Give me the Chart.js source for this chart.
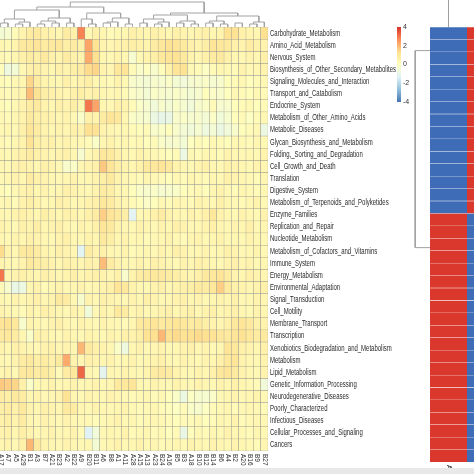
<!DOCTYPE html>
<html>
<head>
<meta charset="utf-8">
<script src="https://cdn.jsdelivr.net/npm/chart.js@4.4.1/dist/chart.umd.min.js"></script>
<style>
html, body { margin: 0; padding: 0; background: #fff; overflow: hidden; width: 474px; height: 474px; }
.box { position: absolute; }
#strip { position: absolute; left: 0; top: 468px; width: 474px; height: 6px; background: #e8e8e8; z-index: 5; }
</style>
</head>
<body>
<div class="box" style="left:-3px;top:0;width:271px;height:27px"><canvas id="tree"></canvas></div>
<div class="box" style="left:-3px;top:27px;width:401px;height:447px"><canvas id="heat"></canvas></div>
<div class="box" style="left:393px;top:0;width:111px;height:474px"><canvas id="side"></canvas></div>
<div class="box" style="left:397px;top:20px;width:26px;height:90px"><canvas id="key"></canvas></div>
<div id="strip"></div>
<script>
const rowLabels = [
    'Carbohydrate_Metabolism', 'Amino_Acid_Metabolism', 'Nervous_System',
    'Biosynthesis_of_Other_Secondary_Metabolites', 'Signaling_Molecules_and_Interaction',
    'Transport_and_Catabolism', 'Endocrine_System', 'Metabolism_of_Other_Amino_Acids',
    'Metabolic_Diseases', 'Glycan_Biosynthesis_and_Metabolism', 'Folding,_Sorting_and_Degradation',
    'Cell_Growth_and_Death', 'Translation', 'Digestive_System',
    'Metabolism_of_Terpenoids_and_Polyketides', 'Enzyme_Families', 'Replication_and_Repair',
    'Nucleotide_Metabolism', 'Metabolism_of_Cofactors_and_Vitamins', 'Immune_System',
    'Energy_Metabolism', 'Environmental_Adaptation', 'Signal_Transduction', 'Cell_Motility',
    'Membrane_Transport', 'Transcription', 'Xenobiotics_Biodegradation_and_Metabolism',
    'Metabolism', 'Lipid_Metabolism', 'Genetic_Information_Processing',
    'Neurodegenerative_Diseases', 'Poorly_Characterized', 'Infectious_Diseases',
    'Cellular_Processes_and_Signaling', 'Cancers'
];

const colLabels = [
    'A17', 'A7', 'A5', 'A29', 'B1', 'A3', 'B7', 'A21', 'B23', 'A2', 'B22', 'A9', 'B20',
    'B11', 'A6', 'B8', 'A1', 'A11', 'A28', 'A15', 'A13', 'A23', 'B24', 'A16', 'B5', 'B3',
    'A18', 'B10', 'B12', 'B14', 'B6', 'A4', 'B2', 'A20', 'B16', 'B9', 'B27'
];

// z-scores, one row per pathway, columns in colLabels order
const values = [
    [-0.5,-0.4,0.2,0.5,0.8,0.9,0.6,0.5,0.4,0.8, 0.6,2.8,0.3,0.6,0.4,0.2,0.3,0.4,0.6,0.5, 0.4,0.6,0.5,0.4,0.6,0.5,0.4,0.5,0.6,0.4, 0.5,1.3,1.2,0.6,0.5,0.4,1.3],
    [0.4,0.3,0.5,0.9,1.0,1.1,0.8,0.9,1.0,0.7, 0.8,0.6,2.3,1.2,0.5,0.4,0.5,0.6,0.7,0.6, 0.5,0.8,1.0,1.2,1.1,0.9,0.6,0.5,0.7,1.1, 1.0,0.9,0.6,0.5,0.8,0.6,0.5],
    [0.3,0.2,0.4,0.6,0.8,0.7,0.9,0.6,0.5,0.8, 0.6,0.5,2.2,1.3,0.4,0.3,0.5,0.4,-0.4,0.3, 0.5,0.7,1.0,1.1,1.2,0.9,0.5,0.4,0.6,0.8, 0.9,0.6,0.4,0.3,0.5,0.4,0.6],
    [0.1,-0.7,-0.5,0.3,0.6,0.7,0.5,0.4,0.6,0.5, 0.7,0.8,1.4,1.5,0.5,0.4,1.0,1.1,0.2,-0.2, 0.0,-0.3,0.1,0.6,1.1,1.2,0.3,0.2,-0.1,0.2, 0.4,0.3,0.2,0.5,0.3,0.4,0.5],
    [0.2,0.1,0.3,0.4,1.5,0.8,0.5,0.4,0.3,0.6, 0.4,0.5,0.7,0.4,0.3,0.2,0.5,0.3,-0.3,-0.4, -0.5,-0.3,-0.4,-0.2,-0.5,-0.6,-0.4,-0.3,-0.2,-0.4, -0.3,0.1,0.2,0.3,0.1,0.2,0.3],
    [0.3,0.2,0.4,0.5,1.9,1.2,0.7,0.6,0.5,0.4, 0.6,0.7,0.5,0.6,0.4,0.3,0.4,0.2,-0.2,-0.3, -0.5,-0.2,-0.3,-0.4,-0.2,-0.3,-0.5,-0.4,0.1,-0.2, -0.3,0.0,0.3,0.2,0.1,0.3,0.2],
    [0.2,0.1,0.3,0.5,0.8,0.9,0.5,0.4,0.6,0.5, 0.7,0.4,3.0,2.3,0.4,0.3,0.6,0.5,0.2,-0.2, -0.4,-0.6,-0.3,-0.5,-0.2,-0.4,-0.6,-0.3,-0.2,0.2, -0.4,-0.3,0.1,0.2,0.3,0.1,0.2],
    [0.3,0.2,0.4,0.5,0.9,0.7,0.6,0.5,0.4,0.5, 0.3,-0.2,0.6,0.5,0.8,1.1,1.0,0.4,-0.2,-0.3, -0.4,-0.8,-1.0,-0.9,-0.3,-0.2,-0.4,-0.3,-0.5,-0.2, -0.6,-0.4,0.1,0.2,-0.1,0.2,0.3],
    [0.3,0.4,0.3,0.6,1.1,0.8,0.5,0.4,0.5,0.4, 0.6,0.5,1.3,1.2,0.5,0.4,0.3,0.4,0.2,0.1, 0.2,-0.3,-0.2,0.1,-0.3,-0.5,-0.6,-0.4,-0.7,-0.5, -0.8,-0.6,-0.3,0.1,0.2,0.3,-0.8],
    [0.3,0.2,0.4,0.5,1.2,0.7,0.5,0.6,0.4,0.5, 0.4,0.3,0.2,-0.2,0.4,0.5,0.3,0.4,0.2,0.3, 0.1,0.2,-0.2,-0.4,-0.3,-0.5,0.0,0.2,0.1,0.3, 0.2,0.1,0.4,0.3,0.2,0.4,0.3],
    [0.4,0.3,0.5,0.6,0.8,0.6,0.5,0.4,0.5,0.6, 0.4,-0.4,0.3,0.5,1.0,0.9,0.6,0.4,0.3,0.5, 0.4,0.3,0.2,0.1,0.2,-0.8,0.3,0.2,0.4,0.3, 0.2,0.5,0.4,0.3,0.4,0.3,0.5],
    [0.4,0.3,0.5,0.6,0.5,0.4,0.6,0.5,0.3,-0.3, -0.2,0.4,0.5,0.6,1.7,1.1,0.7,0.5,0.4,0.6, 0.9,1.0,1.1,0.9,0.5,0.4,0.3,0.5,0.6,0.4, 0.3,0.6,0.5,0.4,0.3,0.5,0.4],
    [0.3,0.4,0.5,0.4,0.8,0.6,0.5,0.4,0.3,0.4, 0.5,0.3,0.4,0.5,0.7,0.9,0.5,0.4,0.3,0.2, 0.4,0.3,0.2,0.1,0.3,0.2,0.4,0.3,0.2,0.4, 0.3,0.6,0.5,0.4,0.3,0.2,0.4],
    [0.2,0.1,0.3,0.5,0.6,0.4,0.5,0.3,0.4,0.6, 0.5,0.4,0.3,0.5,0.8,0.7,0.4,0.3,0.1,-0.2, -0.3,-0.2,-0.4,-0.3,-0.2,0.1,0.2,0.3,0.1,0.4, 0.5,0.3,0.2,0.4,0.3,0.2,0.3],
    [0.3,0.4,0.2,0.5,0.7,0.5,0.3,0.4,0.6,0.5, 0.3,0.4,0.5,0.6,1.0,0.8,0.5,0.4,0.2,0.1, -0.2,0.1,0.3,0.2,0.4,0.3,0.2,0.5,0.4,0.3, 0.6,0.4,0.3,0.2,0.4,0.5,0.3],
    [0.4,0.3,0.5,0.6,0.5,0.4,0.7,0.5,0.4,0.6, 0.5,0.4,0.6,0.8,1.6,1.1,0.9,0.7,-1.2,0.3, 0.4,0.6,0.8,0.5,0.4,0.3,0.5,0.4,0.6,1.0, 0.5,0.4,0.3,0.5,0.4,0.3,0.5],
    [0.5,0.4,0.3,0.6,0.5,0.7,0.4,0.5,0.6,0.4, 0.3,0.5,0.4,0.6,1.1,0.9,0.5,0.4,0.3,0.5, 0.4,0.3,0.5,0.4,0.6,0.5,0.3,0.4,0.5,0.6, 0.4,0.3,0.5,0.4,0.6,0.3,0.4],
    [0.4,0.3,0.5,0.4,0.6,0.5,0.4,0.3,0.5,0.6, 0.4,0.3,0.5,0.4,0.9,0.7,0.4,0.5,0.3,0.4, 0.2,0.3,0.4,0.5,0.3,0.2,0.4,0.5,0.3,0.4, 0.5,0.3,0.4,0.3,0.5,0.4,0.3],
    [1.4,0.5,0.4,0.9,1.0,0.8,0.5,0.4,0.6,0.5, 0.4,-1.2,0.8,0.5,0.6,0.4,0.3,0.5,0.2,0.3, 0.4,0.3,0.5,0.4,0.6,0.5,0.3,0.4,0.5,0.3, 0.4,0.6,0.5,0.3,0.4,0.5,0.3],
    [0.5,0.4,0.3,0.5,0.9,0.8,0.7,0.5,0.4,0.6, 0.5,0.4,0.6,0.5,1.9,0.8,0.5,0.4,0.3,0.5, 0.4,0.6,0.5,0.4,0.3,0.5,0.4,0.6,0.5,0.4, 0.3,0.5,0.6,0.4,0.5,0.3,0.4],
    [3.0,0.4,0.5,0.6,0.5,0.4,0.6,0.5,0.4,0.5, 0.6,0.4,0.5,0.6,0.5,0.4,0.6,-0.3,0.5,0.8, 0.9,1.0,0.9,0.8,0.7,0.5,0.4,0.6,0.9,1.0, 1.1,0.8,0.5,0.4,0.6,0.5,0.4],
    [0.2,-0.3,-0.9,-0.8,0.4,0.5,0.2,0.4,0.5,0.3, 0.4,0.5,0.3,0.4,0.5,0.6,1.1,1.0,0.5,0.4, 0.3,0.5,0.6,0.4,0.5,0.6,0.7,0.9,0.8,1.0, 1.6,0.9,0.6,0.5,0.4,0.5,0.6],
    [0.4,0.3,0.5,0.4,0.5,0.6,0.4,0.5,0.9,0.8, 0.4,-0.3,0.5,0.4,0.6,0.5,0.4,0.3,0.5,0.4, 0.6,0.5,0.3,0.4,0.5,0.6,0.4,0.5,0.3,0.4, 0.5,0.4,0.6,0.3,0.4,0.5,0.4],
    [0.5,0.4,0.3,0.2,0.5,0.4,0.6,0.5,0.4,0.3, 0.5,0.4,-0.6,0.3,0.5,0.4,0.9,0.8,0.4,0.5, 0.3,0.4,0.5,0.6,0.4,0.5,0.6,0.4,0.5,0.6, 0.4,0.5,0.6,0.4,0.3,0.5,0.4],
    [1.1,1.2,1.0,-0.3,0.5,0.4,0.3,0.5,0.6,0.4, 0.3,0.5,0.4,0.3,0.5,0.4,0.3,0.2,0.4,0.9, 1.0,1.1,0.9,1.0,1.1,1.0,0.8,0.9,0.7,0.5, 0.4,0.6,1.0,1.1,0.9,0.6,0.5],
    [0.9,1.0,0.8,0.4,-0.2,0.6,0.5,0.4,0.3,0.5, 0.4,0.3,0.5,0.4,0.3,0.5,0.4,0.6,0.5,0.7, 1.2,1.3,2.0,1.3,1.4,1.2,1.3,1.4,1.3,1.2, 1.0,0.9,1.1,1.2,1.0,0.8,0.9],
    [0.5,0.4,0.6,0.5,0.4,0.3,0.5,0.6,0.4,0.5, 0.4,2.0,0.9,0.6,0.5,0.4,-0.2,-0.7,0.4,0.5, 0.3,0.4,0.5,0.3,0.4,0.5,0.6,0.4,0.5,0.3, 0.4,1.1,1.0,0.6,0.5,0.4,0.6],
    [0.4,0.3,0.5,0.8,0.9,0.7,0.8,0.6,0.9,2.2, 0.5,0.4,0.6,0.5,0.4,0.5,0.3,0.4,0.5,0.3, 0.4,0.5,0.6,0.4,0.3,0.5,0.4,0.3,0.5,0.4, 0.6,1.0,1.1,0.5,0.4,0.3,0.5],
    [0.4,0.5,0.3,0.9,1.0,0.8,0.9,0.7,0.2,0.8, 1.0,3.2,0.4,0.3,-1.1,0.4,0.3,0.5,0.4,0.3, 0.5,0.8,0.9,0.8,0.5,0.4,0.3,0.5,0.4,0.6, 1.0,1.1,0.9,0.5,0.4,0.3,0.5],
    [1.7,1.6,1.5,0.6,-0.2,0.3,0.4,0.5,0.3,0.4, 0.5,0.3,0.4,0.5,0.3,0.4,0.9,1.0,1.1,0.4, 0.3,0.5,0.4,0.3,0.5,0.4,0.3,0.5,0.4,0.3, 0.5,0.4,0.6,0.4,0.3,0.2,-0.6],
    [0.8,0.7,0.9,0.8,0.4,0.5,0.3,0.4,0.5,1.2, 0.4,0.3,0.5,0.4,0.3,0.5,0.4,0.3,0.2,0.3, 0.4,0.2,0.3,0.1,-0.2,-0.8,-0.1,-0.3,-0.4,-0.2, 0.3,0.4,0.5,0.3,0.4,0.5,0.3],
    [0.7,0.8,0.6,0.9,0.5,0.4,0.6,0.5,0.4,0.9, 0.8,0.4,0.3,0.5,0.4,0.3,0.4,0.5,0.3,0.2, 0.3,0.4,0.2,0.1,-0.1,0.2,-0.2,-0.3,-0.1,0.2, 0.3,0.4,0.2,0.3,0.4,0.3,0.2],
    [0.6,0.7,0.5,0.8,0.4,0.3,0.5,0.4,0.3,0.5, 0.4,0.3,0.3,0.2,0.3,0.4,0.5,0.3,0.4,0.2, 0.3,0.4,0.3,0.2,0.1,0.2,0.2,0.3,0.1,0.2, 0.4,0.3,0.5,0.2,0.3,0.4,0.3],
    [0.5,0.6,0.4,0.7,0.5,0.3,0.4,0.5,0.3,0.4, 0.5,0.2,-1.3,-0.6,0.3,0.4,0.3,0.5,0.2,0.3, 0.4,0.2,0.3,0.1,0.2,-0.9,0.1,0.3,0.2,0.4, 0.3,0.5,0.4,0.3,0.2,0.4,0.3],
    [0.4,0.5,0.3,0.6,2.0,0.9,0.5,0.4,0.3,0.5, 0.4,0.3,0.4,-0.5,0.3,0.4,0.5,0.3,0.4,0.5, 0.3,0.4,0.2,0.3,0.4,0.3,0.5,0.4,0.3,0.5, 0.4,0.3,0.5,0.4,0.3,0.2,0.4]
];

// column dendrogram, hclust style: negative = leaf (column number), positive = earlier merge
const mergeLeft   = [-1, -3, 2, -6, -8, 4, -10, -13, -15, 9, -18, -20, -22, 13, -25, -27, 15, -29, -31, 18, -33, -35, 22, 1, 6, 24, -12, 10, 27, 26, 12, 31, 20, 32, 30];
const mergeRight  = [-2, -4, -5, -7, -9, 5, -11, -14, -16, -17, -19, -21, -23, -24, -26, -28, 16, -30, -32, 19, -34, -36, -37, 3, 7, 25, 8, 11, 28, 29, 14, 17, 23, 33, 34];
const mergeHeight = [4, 3, 5, 3, 4, 6, 4, 3, 4, 5, 3, 4, 3, 5, 4, 3, 6, 4, 3, 6, 4, 3, 5, 8, 9, 17, 8, 9, 14, 20, 8, 12, 11, 14, 25];

// annotation strip on the right
const sideColumns = ['', 'A', 'B'];
const sideGroupA = Array.from(rowLabels, (r, k) => k < 15 ? 'low' : 'high');
const sideGroupB = Array.from(rowLabels, (r, k) => k < 15 ? 'high' : 'low');
const keyTicks = [4, 2, 0, -2, -4];

const ramp = ['#4575B4', '#91BFDB', '#E0F3F8', '#FFFFBF', '#FEE090', '#FC8D59', '#D73027'];
function hex(c) { return [1, 3, 5].map(i => parseInt(c.slice(i, i + 2), 16)); }
function colorFor(v) {
    const t = Math.max(0, Math.min(1, (v + 4) / 8)) * (ramp.length - 1);
    const i = Math.min(Math.floor(t), ramp.length - 2);
    const f = t - i;
    const a = hex(ramp[i]), b = hex(ramp[i + 1]);
    const c = a.map((x, j) => Math.round(x + (b[j] - x) * f));
    return `rgb(${c[0]},${c[1]},${c[2]})`;
}
const groupColor = { low: '#3e6cb7', high: '#da382c' };

// heatmap
const heatLabels = {
    id: 'heatLabels',
    afterDraw(chart) {
        const { ctx, chartArea, scales } = chart;
        ctx.save();
        ctx.fillStyle = '#2a2a2a';
        ctx.font = '9px "Liberation Sans Narrow", "Liberation Sans", Arial, sans-serif';
        const longest = Math.max(...rowLabels.map(t => ctx.measureText(t).width));
        const sx = 126 / longest;
        ctx.textBaseline = 'middle';
        ctx.textAlign = 'left';
        rowLabels.forEach((t, k) => {
            ctx.save();
            ctx.translate(chartArea.right + 2, scales.y.getPixelForValue(k + 0.5));
            ctx.scale(sx, 1);
            ctx.fillText(t, 0, 0);
            ctx.restore();
        });
        ctx.font = '6.5px "Liberation Sans", Arial, sans-serif';
        colLabels.forEach((t, i) => {
            ctx.save();
            ctx.translate(scales.x.getPixelForValue(i), chartArea.bottom + 3);
            ctx.rotate(Math.PI / 2);
            ctx.fillText(t, 0, 0);
            ctx.restore();
        });
        ctx.restore();
    }
};

new Chart(document.getElementById('heat'), {
    type: 'bar',
    data: {
        labels: colLabels,
        datasets: rowLabels.map((r, k) => ({
            label: r,
            data: colLabels.map(() => [k, k + 1]),
            backgroundColor: values[k].map(colorFor),
            borderColor: '#9d9d90',
            borderWidth: 0.5,
            borderSkipped: false,
            barPercentage: 1,
            categoryPercentage: 1,
            grouped: false
        }))
    },
    options: {
        responsive: true,
        maintainAspectRatio: false,
        animation: false,
        layout: { padding: { right: 130, bottom: 23 } },
        plugins: { legend: { display: false }, tooltip: { enabled: false } },
        scales: {
            x: { display: false },
            y: { display: false, min: 0, max: rowLabels.length, reverse: true }
        }
    },
    plugins: [heatLabels]
});

// dendrogram above the heatmap
const nodeX = [], nodeH = [];
const px = n => n < 0 ? -n : nodeX[n - 1];
const ph = n => n < 0 ? 0 : nodeH[n - 1];
const treeSets = mergeHeight.map((h, m) => {
    const l = mergeLeft[m], r = mergeRight[m];
    nodeX.push((px(l) + px(r)) / 2);
    nodeH.push(h);
    return {
        data: [{ x: px(l), y: ph(l) }, { x: px(l), y: h }, { x: px(r), y: h }, { x: px(r), y: ph(r) }],
        showLine: true,
        borderColor: '#a2a2a2',
        borderWidth: 1,
        pointRadius: 0,
        clip: false
    };
});

new Chart(document.getElementById('tree'), {
    type: 'scatter',
    data: { datasets: treeSets },
    options: {
        responsive: true,
        maintainAspectRatio: false,
        animation: false,
        layout: { padding: 0 },
        plugins: { legend: { display: false }, tooltip: { enabled: false } },
        scales: {
            x: { display: false, min: 0.5, max: colLabels.length + 0.5 },
            y: { display: false, min: 0, max: 27 }
        }
    }
});

// colour key
new Chart(document.getElementById('key'), {
    type: 'bar',
    data: {
        labels: ['key'],
        datasets: [{
            data: [[keyTicks[keyTicks.length - 1], keyTicks[0]]],
            backgroundColor: ctx => {
                const a = ctx.chart.chartArea;
                if (!a) return null;
                const g = ctx.chart.ctx.createLinearGradient(0, a.bottom, 0, a.top);
                ramp.forEach((c, i) => g.addColorStop(i / (ramp.length - 1), c));
                return g;
            },
            barPercentage: 1,
            categoryPercentage: 1
        }]
    },
    options: {
        responsive: true,
        maintainAspectRatio: false,
        animation: false,
        layout: { padding: { top: 7, bottom: 8 } },
        plugins: { legend: { display: false }, tooltip: { enabled: false } },
        scales: {
            x: { display: false },
            y: {
                position: 'right',
                min: -4, max: 4,
                afterFit: s => { s.width = 22; },
                grid: { display: false, drawTicks: false },
                border: { display: false },
                ticks: { stepSize: 2, padding: 2, color: '#333', font: { size: 7, family: 'Liberation Sans' } }
            }
        }
    }
});

// annotation strip with its bracket
const sideText = {
    id: 'sideText',
    afterDraw(chart) {
        const { ctx, scales } = chart;
        ctx.save();
        ctx.fillStyle = '#111';
        ctx.font = '6.5px "Liberation Sans", Arial, sans-serif';
        ctx.textBaseline = 'middle';
        sideColumns.forEach((t, i) => {
            if (!t) return;
            ctx.save();
            ctx.translate(scales.x.getPixelForValue(i), scales.y.getPixelForValue(rowLabels.length) + 3);
            ctx.rotate(Math.PI / 2);
            ctx.fillText(t, 0, 0);
            ctx.restore();
        });
        ctx.restore();
    }
};

const sideSets = rowLabels.map((r, k) => ({
    type: 'bar',
    data: sideColumns.map((c, i) => i === 0 ? null : [k, k + 1]),
    backgroundColor: sideColumns.map((c, i) => i === 0 ? 'rgba(0,0,0,0)' : groupColor[(i === 1 ? sideGroupA : sideGroupB)[k]]),
    borderColor: 'rgba(255,255,255,0.22)',
    borderWidth: { top: 0.5, bottom: 0.5, left: 0, right: 0 },
    borderSkipped: false,
    barPercentage: 1,
    categoryPercentage: 1,
    grouped: false,
    order: 2
}));
sideSets.push({
    type: 'line',
    xAxisID: 'xt',
    data: [{ x: 1, y: 1.9 }, { x: 0.6, y: 1.9 }, { x: 0.6, y: 17.75 }, { x: 1, y: 17.75 }],
    borderColor: '#a0a0a0',
    borderWidth: 1,
    pointRadius: 0,
    order: 1
}, {
    type: 'line',
    xAxisID: 'xt',
    data: [{ x: 1.5, y: -2.17 }, { x: 1.5, y: 0 }],
    borderColor: '#a0a0a0',
    borderWidth: 1,
    pointRadius: 0,
    order: 1
});

new Chart(document.getElementById('side'), {
    type: 'bar',
    data: { labels: sideColumns, datasets: sideSets },
    options: {
        responsive: true,
        maintainAspectRatio: false,
        animation: false,
        layout: { padding: 0 },
        plugins: { legend: { display: false }, tooltip: { enabled: false } },
        scales: {
            x: { display: false },
            xt: { type: 'linear', display: false, offset: false, min: 0, max: 3 },
            y: { display: false, min: -2.17, max: 35.96, reverse: true }
        }
    },
    plugins: [sideText]
});
</script>
</body>
</html>
